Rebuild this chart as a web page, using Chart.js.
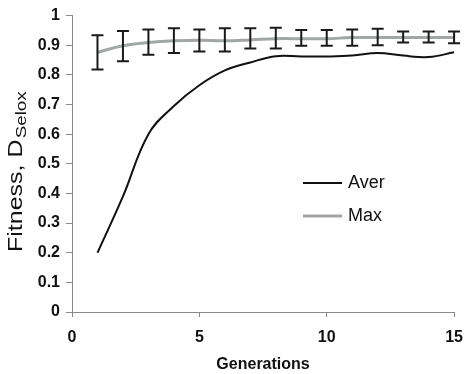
<!DOCTYPE html>
<html>
<head>
<meta charset="utf-8">
<script src="https://cdn.jsdelivr.net/npm/chart.js@4"></script>
<style>
  html, body { margin: 0; padding: 0; background: #fff; }
  #wrap { width: 474px; height: 374px; }
</style>
</head>
<body>
<div id="wrap"><canvas id="fitChart" width="474" height="374"></canvas></div>
<script>
// Data
const generations = [1, 2, 3, 4, 5, 6, 7, 8, 9, 10, 11, 12, 13, 14, 15];
const averFitness = [0.20, 0.39, 0.60, 0.695, 0.765, 0.815, 0.842, 0.863, 0.862, 0.862, 0.865, 0.874, 0.865, 0.860, 0.876];
const maxFitness  = [0.876, 0.898, 0.909, 0.915, 0.917, 0.915, 0.918, 0.922, 0.922, 0.922, 0.926, 0.926, 0.926, 0.926, 0.926];
const maxLow  = [0.818, 0.846, 0.868, 0.874, 0.879, 0.879, 0.889, 0.889, 0.898, 0.898, 0.898, 0.900, 0.909, 0.909, 0.907];
const maxHigh = [0.934, 0.948, 0.953, 0.957, 0.953, 0.957, 0.957, 0.959, 0.951, 0.951, 0.953, 0.956, 0.946, 0.946, 0.946];
const xTicks = [0, 5, 10, 15];

const ctx = document.getElementById('fitChart').getContext('2d');

// error bars on the Max series
const errorBars = {
    id: 'errorBars',
    afterDatasetsDraw(chart) {
        const c = chart.ctx;
        const xs = chart.scales.x, ys = chart.scales.y;
        c.save();
        c.strokeStyle = '#1a1a1a';
        c.lineWidth = 2;
        generations.forEach((g, i) => {
            const px = xs.getPixelForValue(g);
            const lo = ys.getPixelForValue(maxLow[i]);
            const hi = ys.getPixelForValue(maxHigh[i]);
            c.beginPath();
            c.moveTo(px, lo); c.lineTo(px, hi);
            c.moveTo(px - 6, lo); c.lineTo(px + 6, lo);
            c.moveTo(px - 6, hi); c.lineTo(px + 6, hi);
            c.stroke();
        });
        c.restore();
    }
};

// legend inside the plot + y title with subscript
const extras = {
    id: 'extras',
    afterDraw(chart) {
        const c = chart.ctx;
        c.save();
        // legend
        const rows = [{ y: 183 }, { y: 216 }];
        chart.data.datasets.forEach((ds, i) => {
            const y = rows[i].y;
            c.strokeStyle = ds.borderColor;
            c.lineWidth = ds.borderWidth;
            c.beginPath();
            c.moveTo(303, y); c.lineTo(342, y);
            c.stroke();
            c.fillStyle = '#111';
            c.font = '18px Arial, "Liberation Sans", sans-serif';
            c.textAlign = 'left';
            c.textBaseline = 'middle';
            c.fillText(ds.label, 348, y);
        });

        // y axis title: "Fitness, D" + subscript "Selox"
        c.translate(22, 252);
        c.rotate(-Math.PI / 2);
        c.scale(1.25, 1);
        c.fillStyle = '#111';
        c.textAlign = 'left';
        c.textBaseline = 'alphabetic';
        c.font = '20px Arial, "Liberation Sans", sans-serif';
        const main = 'Fitness, D';
        c.fillText(main, 0, 0);
        const w = c.measureText(main).width;
        c.font = '15px Arial, "Liberation Sans", sans-serif';
        c.fillText('Selox', w + 1, 4);
        c.restore();
    }
};

const fitChart = new Chart(ctx, {
    type: 'line',
    data: {
        datasets: [
            {
                label: 'Aver',
                data: generations.map((g, i) => ({ x: g, y: averFitness[i] })),
                borderColor: '#111111',
                borderWidth: 2,
                pointRadius: 0,
                tension: 0.4,
                fill: false
            },
            {
                label: 'Max',
                data: generations.map((g, i) => ({ x: g, y: maxFitness[i] })),
                borderColor: '#a3a6a6',
                borderWidth: 3,
                pointRadius: 0,
                tension: 0.4,
                fill: false
            }
        ]
    },
    options: {
        responsive: false,
        animation: false,
        layout: { padding: { top: 11, right: 11, left: 0, bottom: 0 } },
        plugins: {
            legend: { display: false },
            tooltip: { enabled: false }
        },
        scales: {
            x: {
                type: 'linear',
                min: 0,
                max: 15,
                afterBuildTicks: (scale) => { scale.ticks = xTicks.map(v => ({ value: v })); },
                afterFit: (scale) => { scale.height = 62; },
                grid: { drawOnChartArea: false, tickLength: 5, color: '#8a8a8a', lineWidth: 1 },
                border: { color: '#8a8a8a', width: 1 },
                ticks: {
                    padding: 11,
                    maxRotation: 0,
                    color: '#111',
                    font: { family: 'Arial, "Liberation Sans", sans-serif', size: 16, weight: 'bold' }
                },
                title: {
                    display: true,
                    text: 'Generations',
                    color: '#111',
                    padding: { top: 5, bottom: 0 },
                    font: { family: 'Arial, "Liberation Sans", sans-serif', size: 16, weight: 'bold' }
                }
            },
            y: {
                min: 0,
                max: 1,
                afterFit: (scale) => { scale.width = 72; },
                grid: { drawOnChartArea: false, tickLength: 6, color: '#8a8a8a', lineWidth: 1 },
                border: { color: '#8a8a8a', width: 1 },
                ticks: {
                    stepSize: 0.1,
                    padding: 6,
                    color: '#111',
                    callback: (v) => String(Math.round(v * 10) / 10),
                    font: { family: 'Arial, "Liberation Sans", sans-serif', size: 16, weight: 'bold' }
                }
            }
        }
    },
    plugins: [errorBars, extras]
});
</script>
</body>
</html>
